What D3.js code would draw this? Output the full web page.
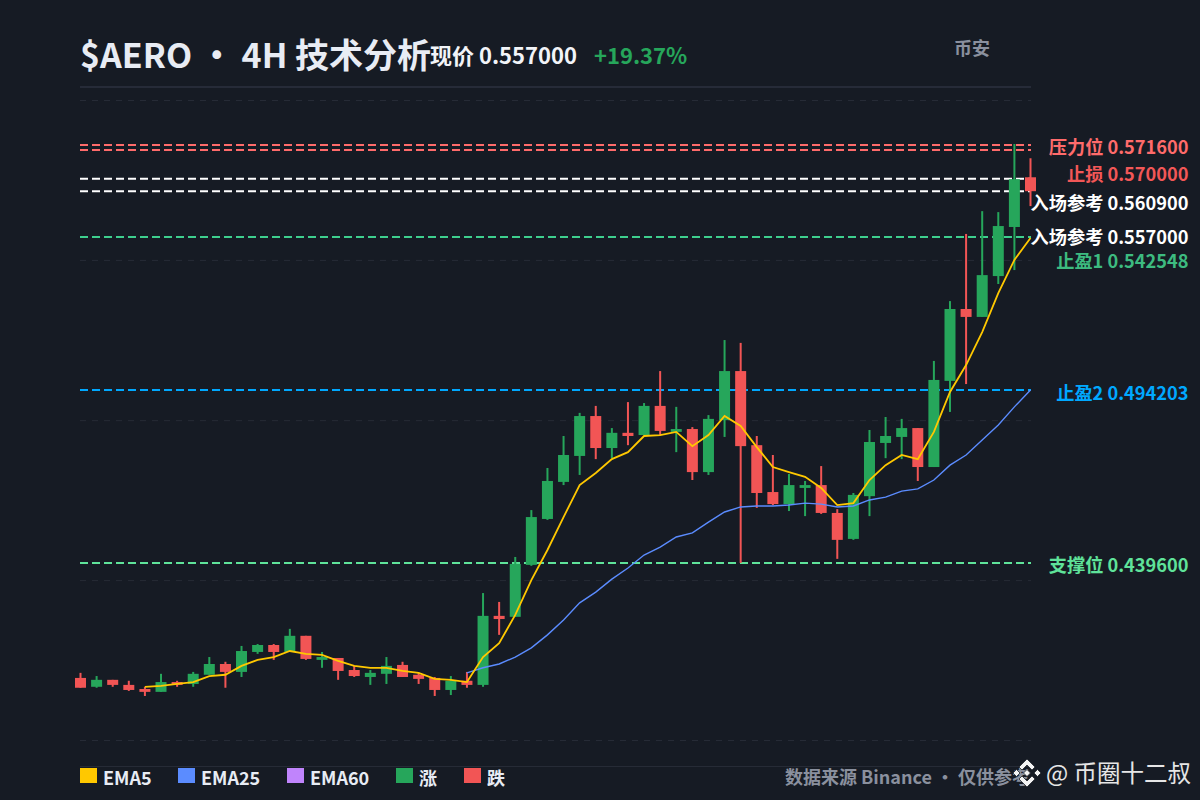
<!DOCTYPE html>
<html>
<head>
<meta charset="utf-8">
<script src="https://cdn.jsdelivr.net/npm/d3@7"></script>
<style>
  html, body { margin: 0; padding: 0; background: #161b24; }
  svg { display: block; }
  text { font-family: "Noto Sans CJK SC", "Noto Sans", sans-serif; }
</style>
</head>
<body>
<div id="chart"></div>
<script>
// one row per 4H candle
const opens = [.4033,.4005,.4027,.4011,.3998,.3989,.4020,.4014,.4043,.4077,.4052,.4115,.4137,.4115,.4166,.4090,.4096,.4058,.4036,.4046,.4074,.4043,.4033,.3995,.4024,.4011,.4229,.4226,.4390,.4535,.4652,.4734,.4860,.4759,.4807,.4800,.4892,.4810,.4819,.4683,.4847,.5002,.4768,.4620,.4582,.4633,.4642,.4554,.4472,.4607,.4775,.4794,.4822,.4699,.4971,.5198,.5173,.5302,.5457,.5614];
const highs = [.4049,.4039,.4027,.4024,.4005,.4046,.4024,.4052,.4099,.4084,.4134,.4140,.4140,.4188,.4166,.4115,.4096,.4071,.4058,.4099,.4084,.4049,.4036,.4039,.4052,.4301,.4273,.4415,.4563,.4696,.4797,.4870,.4892,.4822,.4904,.4901,.5002,.4889,.4825,.4863,.5100,.5091,.4797,.4737,.4677,.4655,.4702,.4566,.4617,.4816,.4857,.4851,.4822,.5034,.5223,.5435,.5507,.5504,.5719,.5674];
const lows = [.4002,.4002,.4005,.3992,.3976,.3989,.4005,.4005,.4043,.4002,.4036,.4109,.4090,.4115,.4090,.4065,.4027,.4036,.4011,.4014,.4036,.4014,.3976,.3979,.4002,.4005,.4169,.4226,.4387,.4532,.4642,.4674,.4724,.4727,.4768,.4800,.4800,.4746,.4658,.4674,.4794,.4396,.4570,.4579,.4560,.4544,.4551,.4409,.4469,.4544,.4727,.4724,.4655,.4699,.4873,.4961,.5173,.5277,.5321,.5523];
const closes = [.4002,.4027,.4011,.3995,.3989,.4020,.4011,.4046,.4077,.4052,.4118,.4137,.4115,.4166,.4093,.4099,.4055,.4039,.4049,.4071,.4036,.4030,.3995,.4024,.4011,.4229,.4219,.4393,.4541,.4655,.4737,.4860,.4759,.4807,.4797,.4892,.4813,.4819,.4683,.4851,.5002,.4765,.4617,.4582,.4642,.4642,.4554,.4469,.4611,.4778,.4797,.4822,.4699,.4974,.5198,.5173,.5305,.5460,.5608,.5570];

// EMA5 starts at candle 4, EMA25 at candle 24
const ema5Start = 4;
const ema5 = [.4005,.4008,.4014,.4020,.4039,.4043,.4071,.4090,.4099,.4118,.4109,.4106,.4087,.4071,.4065,.4065,.4055,.4049,.4030,.4027,.4020,.4099,.4143,.4232,.4342,.4437,.4541,.4642,.4680,.4724,.4746,.4797,.4800,.4810,.4765,.4800,.4860,.4829,.4762,.4699,.4683,.4668,.4633,.4579,.4585,.4658,.4705,.4737,.4724,.4810,.4936,.5021,.5125,.5248,.5353,.5422];
const ema25Start = 24;
const ema25 = [.4049,.4065,.4077,.4099,.4128,.4169,.4216,.4270,.4304,.4345,.4380,.4421,.4446,.4478,.4491,.4525,.4557,.4573,.4576,.4576,.4579,.4585,.4582,.4573,.4576,.4595,.4604,.4623,.4630,.4658,.4705,.4737,.4784,.4832,.4889,.4942];

const gridPrices = [.5858,.5353,.4847,.4342,.3837];

const levelPrices = [.5716,.5700,.5609,.5570,.542548,.494203,.4396];
const levelNames = ['压力位','止损','入场参考','入场参考','止盈1','止盈2','支撑位'];
const levelValues = ['0.571600','0.570000','0.560900','0.557000','0.542548','0.494203','0.439600'];
const levelColors = ['#ff6b6b','#ff6b6b','#ffffff','#ffffff','#3ecf8e','#00a8ff','#5fe39a'];
const levelLabelColors = ['#ff6b6b','#f25757','#ffffff','#ffffff','#3dbb80','#00a8ff','#5fe39a'];
// labels are pushed apart so they do not collide
const levelLabelY = [148,175,204,238,262,394,566];

const legendNames = ['EMA5','EMA25','EMA60','涨','跌'];
const legendColors = ['#ffc800','#5b8cff','#c084fc','#26a65b','#f25555'];
const legendX = [80,178,287,396,464];

const width = 1200;
const height = 800;
const bg = '#161b24';
const up = '#26a65b';
const down = '#f25555';

const candles = d3.range(opens.length).map(i => ({i: i, o: opens[i], h: highs[i], l: lows[i], c: closes[i]}));

const x = d3.scalePoint().domain(d3.range(opens.length)).range([80.5, 1030.5]);
const y = d3.scaleLinear().domain([.3837, .5858]).range([740, 100]);

const svg = d3.select('#chart').append('svg')
    .attr('width', width).attr('height', height);
svg.append('rect').attr('width', width).attr('height', height).attr('fill', bg);

// grid
const grid = svg.append('g').attr('transform', 'translate(80,0)')
    .call(d3.axisRight(y).tickValues(gridPrices).tickSize(951).tickFormat(''));
grid.select('.domain').remove();
grid.selectAll('line').attr('stroke', '#262b36').attr('stroke-width', 1).attr('stroke-dasharray', '6,6');

// header + footer rules
svg.append('line').attr('x1', 80).attr('x2', 1031).attr('y1', 87).attr('y2', 87)
    .attr('stroke', '#262b38').attr('stroke-width', 2);
svg.append('line').attr('x1', 80).attr('x2', 1031).attr('y1', 766.5).attr('y2', 766.5)
    .attr('stroke', '#262b36').attr('stroke-width', 1);

// level lines
svg.append('g').selectAll('line')
    .data(levelPrices)
    .enter()
    .append('line')
    .attr('x1', 80).attr('x2', 1031)
    .attr('y1', d => y(d)).attr('y2', d => y(d))
    .attr('stroke', (d, i) => levelColors[i])
    .attr('stroke-width', 2)
    .attr('stroke-dasharray', '8,4');

// candles
const candle = svg.append('g').selectAll('g')
    .data(candles)
    .enter()
    .append('g')
    .attr('fill', d => d.c >= d.o ? up : down);
candle.append('rect')
    .attr('x', d => x(d.i) - 1)
    .attr('width', 2)
    .attr('y', d => y(d.h))
    .attr('height', d => y(d.l) - y(d.h));
candle.append('rect')
    .attr('x', d => x(d.i) - 5.5)
    .attr('width', 11)
    .attr('y', d => y(Math.max(d.o, d.c)))
    .attr('height', d => Math.max(1, Math.abs(y(d.o) - y(d.c))));

// ema lines
const emaLine = start => d3.line().x((d, i) => x(i + start)).y(d => y(d));
svg.append('path').attr('d', emaLine(ema25Start)(ema25))
    .attr('fill', 'none').attr('stroke', legendColors[1]).attr('stroke-width', 1.4);
svg.append('path').attr('d', emaLine(ema5Start)(ema5))
    .attr('fill', 'none').attr('stroke', legendColors[0]).attr('stroke-width', 1.8);

// level labels
svg.append('g').selectAll('text')
    .data(levelPrices)
    .enter()
    .append('text')
    .attr('x', 1188.5)
    .attr('y', (d, i) => levelLabelY[i])
    .attr('dy', '0.35em')
    .attr('text-anchor', 'end')
    .attr('font-size', 18.2)
    .attr('font-weight', 700)
    .attr('fill', (d, i) => levelLabelColors[i])
    .text((d, i) => levelNames[i] + ' ' + levelValues[i]);

// title row
svg.append('text').attr('x', 80).attr('y', 68)
    .attr('font-size', 34).attr('font-weight', 700).attr('fill', '#e8ecf4')
    .text('$AERO · 4H 技术分析');
svg.append('text').attr('x', 430).attr('y', 64)
    .attr('font-size', 22).attr('font-weight', 700).attr('fill', '#f2f4f8')
    .text('现价 0.557000');
svg.append('text').attr('x', 594).attr('y', 64)
    .attr('font-size', 22).attr('font-weight', 700).attr('fill', up)
    .text('+19.37%');
svg.append('text').attr('x', 972).attr('y', 55).attr('text-anchor', 'middle')
    .attr('font-size', 18).attr('font-weight', 700).attr('fill', '#8a909e')
    .text('币安');

// legend
const legend = svg.append('g').selectAll('g')
    .data(legendNames)
    .enter()
    .append('g')
    .attr('transform', (d, i) => 'translate(' + legendX[i] + ',768)');
legend.append('rect').attr('width', 17).attr('height', 15).attr('fill', (d, i) => legendColors[i]);
legend.append('text').attr('x', 23).attr('y', 17)
    .attr('font-size', 18).attr('font-weight', 700).attr('fill', '#e8ecf4')
    .text(d => d);

// footer note
svg.append('text').attr('x', 785).attr('y', 784)
    .attr('font-size', 18).attr('font-weight', 700).attr('fill', '#8a909e')
    .text('数据来源 Binance · 仅供参考');

// watermark
const mark = svg.append('g').attr('transform', 'translate(1027,773)');
const markPaths = [
    'M0,-14 L8,-6 L5,-3 L0,-8 L-5,-3 L-8,-6 Z',
    'M0,14 L8,6 L5,3 L0,8 L-5,3 L-8,6 Z',
    'M-14,0 L-10.5,-3.5 L-7,0 L-10.5,3.5 Z',
    'M14,0 L10.5,-3.5 L7,0 L10.5,3.5 Z',
    'M0,-3.5 L3.5,0 L0,3.5 L-3.5,0 Z'
];
mark.selectAll('path')
    .data(markPaths)
    .enter()
    .append('path')
    .attr('d', d => d)
    .attr('fill', '#f4f4f4')
    .attr('stroke', '#20242c')
    .attr('stroke-width', 0.8);
svg.append('text').attr('x', 1046).attr('y', 782)
    .attr('font-size', 23.5).attr('fill', '#e6e6e6')
    .attr('stroke', '#20242c').attr('stroke-width', 0.5)
    .attr('paint-order', 'stroke')
    .text('@ 币圈十二叔');
</script>
</body>
</html>
